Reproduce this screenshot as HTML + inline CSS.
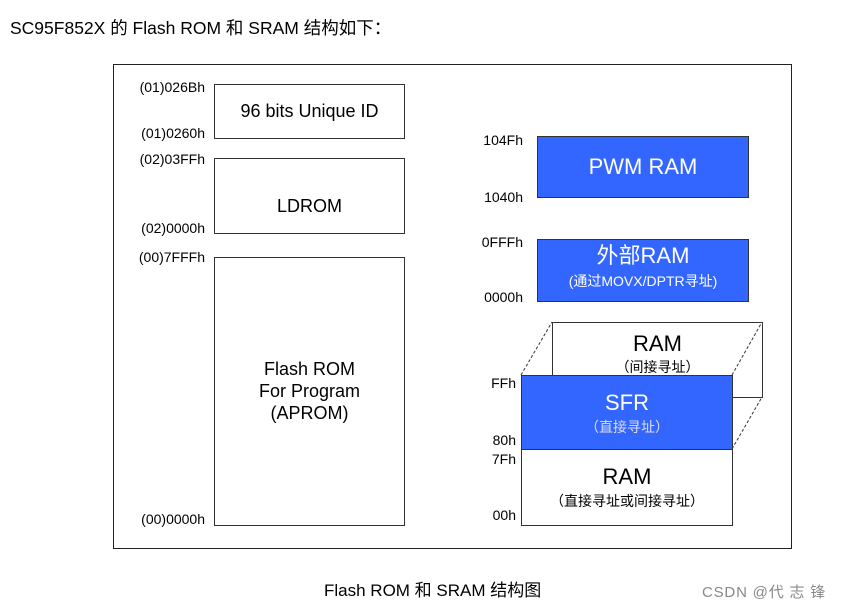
<!DOCTYPE html>
<html><head><meta charset="utf-8"><style>
html,body{margin:0;padding:0;background:#fff;width:841px;height:608px;overflow:hidden;position:relative;font-family:"Liberation Sans","Noto Sans CJK SC",sans-serif;color:#000}
.a{position:absolute;white-space:nowrap}
.box{position:absolute;border:1px solid #333;box-sizing:border-box;background:#fff;display:flex;flex-direction:column;align-items:center;justify-content:center;text-align:center}
.blue{background:#3366ff;color:#fff}
.lbl{position:absolute;font-size:14px;text-align:right;white-space:nowrap}
</style></head><body>
<div class="a" style="left:10px;top:15px;font-size:17.5px">SC95F852X 的 Flash ROM 和 SRAM 结构如下：</div>
<div class="a" style="left:113px;top:64px;width:679px;height:485px;border:1px solid #222;box-sizing:border-box"></div>

<div class="lbl" style="right:636px;top:79px">(01)026Bh</div>
<div class="lbl" style="right:636px;top:125px">(01)0260h</div>
<div class="box" style="left:214px;top:84px;width:191px;height:55px;font-size:18px">96 bits Unique ID</div>

<div class="lbl" style="right:636px;top:151px">(02)03FFh</div>
<div class="lbl" style="right:636px;top:220px">(02)0000h</div>
<div class="box" style="left:214px;top:158px;width:191px;height:76px;font-size:18px;padding-top:20px">LDROM</div>

<div class="lbl" style="right:636px;top:249px">(00)7FFFh</div>
<div class="lbl" style="right:636px;top:511px">(00)0000h</div>
<div class="box" style="left:214px;top:257px;width:191px;height:269px;font-size:18px;line-height:22px;padding-bottom:2px">Flash ROM<br>For Program<br>(APROM)</div>

<div class="lbl" style="right:318px;top:132px">104Fh</div>
<div class="lbl" style="right:318px;top:189px">1040h</div>
<div class="box blue" style="left:537px;top:136px;width:212px;height:62px;font-size:22px">PWM RAM</div>

<div class="lbl" style="right:318px;top:234px">0FFFh</div>
<div class="lbl" style="right:318px;top:289px">0000h</div>
<div class="box blue" style="left:537px;top:239px;width:212px;height:63px;justify-content:flex-start;padding-top:2px">
<div style="font-size:22px;line-height:28px">外部RAM</div>
<div style="font-size:14px;line-height:22px">(通过MOVX/DPTR寻址)</div></div>

<div class="box" style="left:552px;top:322px;width:211px;height:76px;justify-content:flex-start;padding-top:8px">
<div style="font-size:22px;line-height:26px">RAM</div>
<div style="font-size:14px;line-height:20px">（间接寻址）</div></div>

<svg class="a" style="left:0;top:0" width="841" height="608">
<g stroke="#333" stroke-width="1" stroke-dasharray="3,2" fill="none">
<line x1="521" y1="375" x2="552" y2="322"/>
<line x1="732" y1="375" x2="762" y2="322"/>
<line x1="732" y1="449" x2="762" y2="397"/>
</g></svg>

<div class="box blue" style="left:521px;top:375px;width:212px;height:75px;justify-content:flex-start;padding-top:14px">
<div style="font-size:22px;line-height:26px">SFR</div>
<div style="font-size:14px;line-height:22px;color:#dde">（直接寻址）</div></div>
<div class="box" style="left:521px;top:449px;width:212px;height:77px;justify-content:flex-start;padding-top:13px">
<div style="font-size:22px;line-height:28px">RAM</div>
<div style="font-size:14px;line-height:20px">（直接寻址或间接寻址）</div></div>

<div class="lbl" style="right:325px;top:375px">FFh</div>
<div class="lbl" style="right:325px;top:432px">80h</div>
<div class="lbl" style="right:325px;top:451px">7Fh</div>
<div class="lbl" style="right:325px;top:507px">00h</div>

<div class="a" style="left:324px;top:576px;font-size:17px">Flash ROM 和 SRAM 结构图</div>
<div class="a" style="left:702px;top:581px;font-size:15px;color:#888;letter-spacing:0.8px">CSDN @代 志 锋</div>
</body></html>
